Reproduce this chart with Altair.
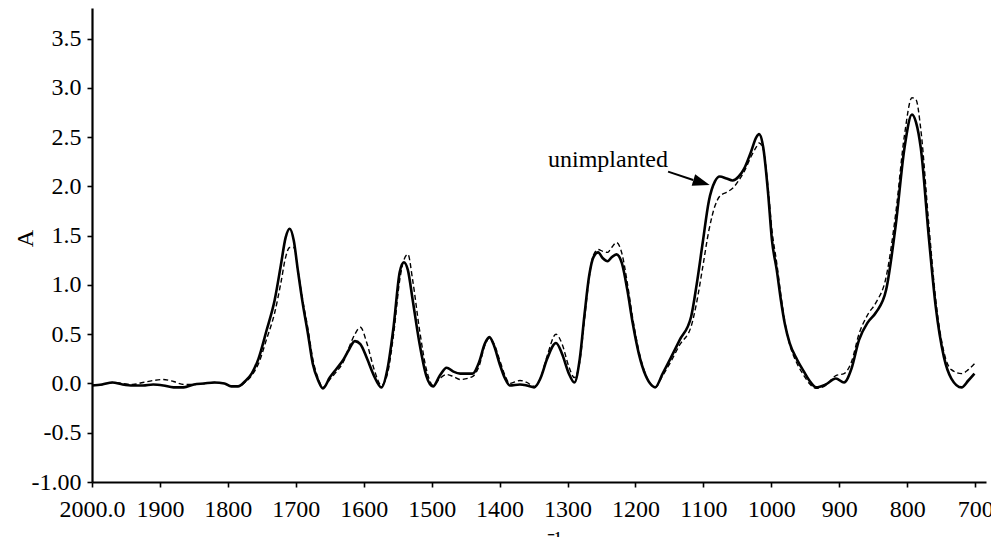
import altair as alt
import pandas as pd

# ==================== data ====================
wavenumber = [
    2000, 1985, 1970, 1955, 1940, 1925, 1910, 1895, 1880, 1865, 1850, 1835, 1820, 1805,
    1795, 1785, 1775, 1765, 1755, 1743, 1731, 1722, 1715, 1709, 1703, 1697, 1690, 1682,
    1675, 1667, 1660, 1650, 1640, 1630, 1622, 1613, 1605, 1595, 1585, 1574, 1565, 1556,
    1547, 1541, 1535, 1528, 1518, 1508, 1498, 1488, 1478, 1468, 1458, 1440, 1430, 1422,
    1415, 1408, 1400, 1392, 1385, 1370, 1360, 1349, 1340, 1330, 1317, 1308, 1298, 1290,
    1282, 1275, 1268, 1262, 1255, 1248, 1241, 1235, 1228, 1220, 1212, 1204, 1195, 1185,
    1176, 1171, 1160, 1148, 1135, 1118, 1110, 1101, 1092, 1083, 1076, 1066, 1057, 1048,
    1040, 1030, 1022, 1018, 1012, 1005, 999, 992, 986, 980, 973, 962, 952, 944,
    934, 920, 905, 893, 882, 871, 858, 846, 831, 817, 804, 793, 787, 780,
    768, 758, 746, 735, 720, 710, 701,
]

unimplanted = [
    -0.02, -0.01, 0.01, -0.01, -0.02, -0.02, -0.01, -0.02, -0.04, -0.04, -0.01, 0.00, 0.01, 0.00,
    -0.03, -0.03, 0.02, 0.10, 0.25, 0.54, 0.85, 1.20, 1.48, 1.57, 1.45, 1.15, 0.82, 0.50,
    0.20, 0.03, -0.05, 0.06, 0.15, 0.24, 0.34, 0.43, 0.40, 0.25, 0.08, -0.04, 0.15, 0.58,
    1.13, 1.23, 1.15, 0.85, 0.41, 0.08, -0.03, 0.08, 0.16, 0.12, 0.10, 0.10, 0.22, 0.40,
    0.47, 0.38, 0.20, 0.05, -0.02, -0.01, -0.02, -0.04, 0.05, 0.25, 0.41, 0.30, 0.10, 0.01,
    0.25, 0.70, 1.10, 1.28, 1.33, 1.27, 1.24, 1.28, 1.31, 1.22, 0.95, 0.61, 0.30, 0.08,
    -0.02, -0.04, 0.10, 0.26, 0.44, 0.68, 1.00, 1.43, 1.85, 2.05, 2.10, 2.08, 2.06, 2.10,
    2.18, 2.35, 2.50, 2.53, 2.40, 1.95, 1.45, 1.15, 0.85, 0.60, 0.41, 0.24, 0.12, 0.03,
    -0.04, -0.01, 0.05, 0.01, 0.15, 0.44, 0.62, 0.72, 0.95, 1.60, 2.39, 2.73, 2.65, 2.39,
    1.47, 0.78, 0.27, 0.05, -0.04, 0.03, 0.10,
]

implanted = [
    -0.02, -0.01, 0.01, 0.00, -0.01, 0.01, 0.03, 0.04, 0.02, -0.01, -0.01, 0.00, 0.01, 0.00,
    -0.03, -0.03, 0.01, 0.08, 0.20, 0.45, 0.72, 1.02, 1.28, 1.38, 1.38, 1.15, 0.85, 0.55,
    0.25, 0.05, -0.04, 0.04, 0.12, 0.22, 0.36, 0.50, 0.57, 0.40, 0.15, -0.02, 0.10, 0.50,
    1.05, 1.25, 1.31, 1.05, 0.55, 0.15, -0.02, 0.05, 0.09, 0.07, 0.04, 0.07, 0.18, 0.38,
    0.46, 0.40, 0.24, 0.08, 0.00, 0.03, 0.01, -0.03, 0.05, 0.28, 0.50, 0.40, 0.17, 0.06,
    0.22, 0.65, 1.08, 1.30, 1.36, 1.34, 1.33, 1.38, 1.43, 1.32, 1.02, 0.66, 0.33, 0.09,
    -0.02, -0.04, 0.08, 0.22, 0.39, 0.58, 0.82, 1.18, 1.55, 1.80, 1.90, 1.94, 1.98, 2.06,
    2.15, 2.30, 2.40, 2.44, 2.38, 2.00, 1.55, 1.22, 0.90, 0.62, 0.40, 0.20, 0.08, 0.00,
    -0.05, -0.02, 0.08, 0.10, 0.22, 0.50, 0.70, 0.82, 1.08, 1.72, 2.52, 2.90, 2.88, 2.58,
    1.60, 0.85, 0.32, 0.14, 0.10, 0.14, 0.20,
]

x_ticks = [2000, 1900, 1800, 1700, 1600, 1500, 1400, 1300, 1200, 1100, 1000, 900, 800, 700]
y_ticks = [-1.0, -0.5, 0.0, 0.5, 1.0, 1.5, 2.0, 2.5, 3.0, 3.5]

# annotation: label and arrow (data units)
note_text = ["unimplanted"]
note_wn = [1328.7]
note_a = [2.20]
arrow_from = (1152.0, 2.15)
arrow_to = (1115.0, 2.065)
arrow_head = (1102.7, 2.04)

FONT = "Liberation Serif"
FONT_SIZE = 24
PLOT_WIDTH = 894
PLOT_HEIGHT = 474

df = pd.DataFrame({"wn": wavenumber, "solid": unimplanted, "dashed": implanted})

x_scale = alt.Scale(domain=[684, 2000], reverse=True, nice=False, zero=False)
y_scale = alt.Scale(domain=[-1.0, 3.81], nice=False, zero=False)

x_axis = alt.Axis(
    values=x_ticks,
    labelExpr="datum.value == 2000 ? '2000.0' : format(datum.value, 'd')",
    labelFont=FONT,
    labelFontSize=FONT_SIZE,
    labelPadding=10,
    labelFlush=False,
    labelOverlap=False,
    title="cm⁻¹",
    titleFont=FONT,
    titleY=47,
    titleBaseline="top",
)
y_axis = alt.Axis(
    values=y_ticks,
    labelExpr=(
        "datum.value == -1 ? '-1.00' : "
        "(datum.value < 0 ? '-' + format(-datum.value, '.1f') : format(datum.value, '.1f'))"
    ),
    labelFont=FONT,
    labelFontSize=FONT_SIZE,
    labelPadding=6,
    labelFlush=False,
    labelOverlap=False,
    title="A",
    titleFont=FONT,
    titleX=-67,
    titleY=230,
    titleAlign="center",
    titleBaseline="middle",
    titleAngle=270,
)

base = alt.Chart(df)

solid = base.mark_line(color="black", strokeWidth=2.6, interpolate="monotone").encode(
    x=alt.X("wn:Q", scale=x_scale, axis=x_axis),
    y=alt.Y("solid:Q", scale=y_scale, axis=y_axis),
)

dashed = base.mark_line(
    color="black", strokeWidth=1.4, strokeDash=[5, 3], interpolate="monotone"
).encode(
    x=alt.X("wn:Q", scale=x_scale),
    y=alt.Y("dashed:Q", scale=y_scale),
)

note = alt.Chart(pd.DataFrame({"wn": note_wn, "a": note_a, "label": note_text})).mark_text(
    font=FONT, fontSize=FONT_SIZE, align="left", baseline="alphabetic", color="black"
).encode(
    x=alt.X("wn:Q", scale=x_scale),
    y=alt.Y("a:Q", scale=y_scale),
    text="label:N",
)

shaft = alt.Chart(pd.DataFrame({
    "x1": [arrow_from[0]], "y1": [arrow_from[1]],
    "x2": [arrow_to[0]], "y2": [arrow_to[1]],
})).mark_rule(color="black", strokeWidth=2).encode(
    x=alt.X("x1:Q", scale=x_scale),
    y=alt.Y("y1:Q", scale=y_scale),
    x2="x2:Q",
    y2="y2:Q",
)

head = alt.Chart(pd.DataFrame({"x": [arrow_head[0]], "y": [arrow_head[1]]})).mark_point(
    shape="M -1 -0.7 L 1 0 L -1 0.7 Z", filled=True, size=289, angle=17,
    color="black", opacity=1,
).encode(
    x=alt.X("x:Q", scale=x_scale),
    y=alt.Y("y:Q", scale=y_scale),
)

chart = alt.layer(dashed, solid, shaft, head, note).properties(
    width=PLOT_WIDTH,
    height=PLOT_HEIGHT,
    autosize=alt.AutoSizeParams(type="none"),
    padding={"left": 84, "top": 0, "right": 5, "bottom": 55},
).configure_axis(
    grid=False,
    labelFont=FONT,
    titleFont=FONT,
    labelFontSize=FONT_SIZE,
    titleFontSize=FONT_SIZE,
    titleFontWeight="normal",
    labelColor="black",
    titleColor="black",
    domainColor="black",
    domainWidth=2.2,
    tickColor="black",
    tickWidth=1.6,
    tickSize=5,
).configure_view(stroke=None)

chart.save("out.html", embed_options={"renderer": "svg", "actions": False})
